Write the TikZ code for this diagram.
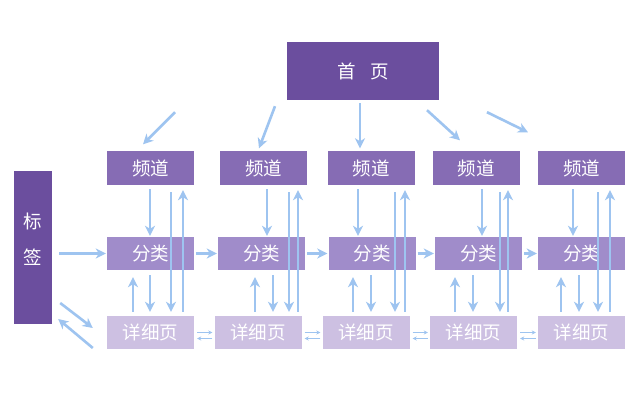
\documentclass[tikz,border=0pt]{standalone}
\usepackage{fontspec}
\newfontfamily\cjk{Noto Sans CJK SC}
\usetikzlibrary{arrows.meta}
\definecolor{deep}{RGB}{107,78,158}
\definecolor{mid}{RGB}{134,108,180}
\definecolor{soft}{RGB}{160,140,202}
\definecolor{pale}{RGB}{205,192,226}
\definecolor{sky}{RGB}{158,196,240}

\begin{document}
\begin{tikzpicture}[x=1pt, y=-1pt, every node/.style={font=\cjk\fontsize{18.5}{18.5}\selectfont, text=white, inner sep=0pt},
	box/.style={minimum width=87pt, minimum height=34pt},
	pindao/.style={box, fill=mid}, fenlei/.style={box, fill=soft, minimum height=33pt}, xiangxi/.style={box, fill=pale, minimum height=33pt},
	arr/.style={draw=sky, line width=2.6pt, -{Stealth[length=10pt, width=10pt, inset=3pt]}},
	thin/.style={draw=sky, line width=1pt, -{Stealth[length=4pt, width=4pt]}}]
	\useasboundingbox[fill=white] (0,0) rectangle (640,396);
	\node[fill=deep, minimum width=152pt, minimum height=58pt] (sy) at (363,71) {首\hspace{0.8em}页\hspace{16pt}};
	\node[fill=deep, minimum width=38pt, minimum height=153pt, align=center] (bq) at (33,247) {标\\[17pt]签\\[-2pt]\mbox{}};
	% three rows of boxes
	\foreach \i/\a/\b/\c in {1/150.5/150.5/150.5, 2/263.5/261.5/258, 3/371/372/366, 4/476/478.5/473.5, 5/581.5/581.5/581.5} {
		\node[pindao] (pd\i) at (\a,168) {频道};
		\node[fenlei] (fl\i) at (\b,253.5) {分类};
		\node[xiangxi] (xx\i) at (\c,332.5) {详细页};
	}
	% from the home page
	\draw[arr] ([xshift=-188pt, yshift=-12pt]sy.south) -- ([xshift=-7.5pt, yshift=6.5pt]pd1.north);
	\draw[arr] ([xshift=-88pt, yshift=-6pt]sy.south) -- ([xshift=-4.5pt, yshift=2.5pt]pd2.north);
	\draw[arr] ([xshift=-3pt, yshift=-3pt]sy.south) -- ([xshift=-11pt, yshift=2.5pt]pd3.north);
	\draw[arr] ([xshift=64pt, yshift=-10pt]sy.south) -- ([xshift=-16pt, yshift=10.5pt]pd4.north);
	\draw[arr] ([xshift=124pt, yshift=-12pt]sy.south) -- ([xshift=-53.5pt, yshift=18.5pt]pd5.north);
	% inside each column
	\foreach \i/\p/\q/\r/\s/\t in {1/150/171/183/133/150, 2/267/289/298/255/273, 3/358/395/405/353/371, 4/482/500/508/455/473, 5/573/598/610/561/579} {
		\coordinate (cp) at (\p,0);
		\coordinate (cq) at (\q,0);
		\coordinate (cr) at (\r,0);
		\coordinate (cs) at (\s,0);
		\coordinate (ct) at (\t,0);
		\draw[arr, shorten <=4pt, shorten >=1pt] (pd\i.south -| cp) -- (fl\i.north -| cp);
		\draw[arr, shorten <=7pt, shorten >=4pt] (pd\i.south -| cq) -- (xx\i.north -| cq);
		\draw[arr, shorten <=4pt, shorten >=5pt] (xx\i.north -| cr) -- (pd\i.south -| cr);
		\draw[arr, shorten <=4pt, shorten >=7pt] (xx\i.north -| cs) -- (fl\i.south -| cs);
		\draw[arr, shorten <=5pt, shorten >=4pt] (fl\i.south -| ct) -- (xx\i.north -| ct);
	}
	% along the rows
	\draw[arr, shorten <=7pt, shorten >=1pt] (bq.east |- fl1.west) -- (fl1.west);
	\foreach \i/\j in {1/2, 2/3, 3/4, 4/5} {
		\draw[arr, shorten <=2pt, shorten >=1pt] (fl\i.east) -- (fl\j.west);
		\draw[thin, shorten <=3pt, shorten >=2pt] (xx\i.east) -- (xx\j.west);
		\draw[thin, shorten <=2pt, shorten >=3pt] ([yshift=-6pt]xx\j.west) -- ([yshift=-6pt]xx\i.east);
	}
	% tags and detail pages
	\draw[arr] ([xshift=8pt, yshift=-56pt]bq.east) -- ([xshift=-14pt, yshift=4.5pt]xx1.west);
	\draw[arr] ([xshift=-14pt, yshift=-15.5pt]xx1.west) -- ([xshift=6pt, yshift=-72pt]bq.east);
\end{tikzpicture}
\end{document}
